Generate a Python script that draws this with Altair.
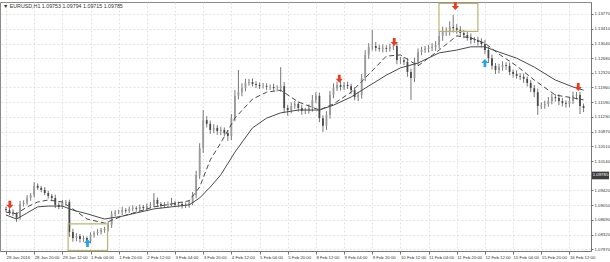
import altair as alt
import pandas as pd
import numpy as np

# ---- candles: one candle per two H1 bars, hour index from 28 Jan 04:00 ----
bar_hours = list(range(0, 330, 2))
# close prices in pips above 1.0000 (e.g. 893 -> 1.0893)
closes_pips = [
    893, 888, 884, 874, 908, 911, 923, 930, 953, 948,
    943, 935, 928, 923, 906, 901, 911, 913, 839, 824,
    829, 822, 824, 817, 832, 836, 839, 844, 846, 857,
    884, 888, 888, 893, 891, 896, 898, 896, 901, 898,
    903, 906, 918, 908, 903, 906, 908, 911, 906, 908,
    903, 906, 911, 930, 980, 1046, 1115, 1106, 1091, 1096,
    1088, 1091, 1083, 1076, 1120, 1175, 1184, 1194, 1207, 1209,
    1204, 1202, 1199, 1199, 1197, 1197, 1194, 1194, 1199, 1145,
    1140, 1150, 1155, 1145, 1138, 1138, 1145, 1165, 1175, 1120,
    1101, 1128, 1177, 1194, 1202, 1197, 1202, 1199, 1189, 1172,
    1177, 1219, 1276, 1296, 1298, 1293, 1291, 1293, 1291, 1296,
    1298, 1263, 1263, 1259, 1234, 1219, 1259, 1283, 1288, 1291,
    1293, 1296, 1300, 1323, 1335, 1333, 1345, 1342, 1338, 1330,
    1325, 1320, 1313, 1313, 1308, 1303, 1288, 1268, 1249, 1239,
    1246, 1251, 1249, 1234, 1229, 1224, 1222, 1217, 1207, 1194,
    1184, 1150, 1152, 1155, 1162, 1172, 1170, 1162, 1157, 1155,
    1162, 1175, 1177, 1150, 1145,
]
first_open_pips = 896
# wick lengths in pips above / below the body
upper_wick = [
    6, 5, 7, 4, 8, 6, 7, 5, 9, 6,
    5, 7, 6, 5, 8, 6, 7, 5, 6, 8,
    7, 5, 6, 4, 6, 5, 7, 5, 6, 8,
    7, 5, 6, 8, 5, 6, 7, 5, 6, 5,
    6, 7, 17, 6, 5, 7, 6, 12, 5, 6,
    5, 6, 7, 8, 10, 12, 25, 10, 8, 9,
    7, 8, 6, 7, 10, 14, 55, 12, 10, 8,
    9, 7, 6, 8, 7, 6, 8, 7, 47, 10,
    8, 9, 7, 6, 8, 7, 9, 12, 9, 8,
    7, 9, 10, 12, 8, 9, 7, 8, 6, 7,
    8, 10, 12, 9, 40, 10, 8, 9, 7, 8,
    9, 10, 8, 7, 9, 8, 10, 9, 8, 7,
    8, 9, 10, 12, 11, 9, 14, 30, 10, 9,
    8, 10, 9, 7, 8, 9, 10, 8, 9, 7,
    8, 9, 7, 8, 6, 9, 7, 8, 6, 7,
    8, 9, 7, 8, 10, 8, 7, 9, 8, 7,
    9, 10, 7, 8, 6,
]
lower_wick = [
    5, 7, 6, 10, 5, 6, 5, 7, 6, 5,
    6, 5, 7, 6, 8, 6, 5, 7, 12, 9,
    8, 9, 7, 10, 6, 7, 5, 6, 7, 6,
    8, 6, 5, 7, 6, 5, 6, 7, 5, 6,
    7, 5, 6, 8, 6, 5, 7, 6, 5, 6,
    6, 5, 7, 6, 8, 10, 12, 9, 10, 8,
    9, 10, 8, 12, 10, 8, 9, 10, 8, 7,
    6, 8, 7, 6, 8, 7, 6, 8, 9, 12,
    14, 8, 7, 9, 10, 8, 7, 9, 8, 10,
    15, 10, 9, 8, 7, 9, 8, 7, 9, 8,
    10, 9, 8, 10, 9, 8, 7, 9, 8, 7,
    8, 10, 9, 8, 12, 54, 10, 9, 8, 7,
    9, 8, 10, 9, 12, 10, 9, 11, 10, 9,
    8, 9, 10, 8, 9, 8, 10, 12, 9, 10,
    8, 9, 10, 8, 9, 7, 8, 10, 9, 10,
    12, 22, 8, 9, 7, 8, 9, 10, 8, 9,
    8, 7, 9, 20, 10,
]

# ---- moving averages ----
ma_hours = [0, 6, 12, 18, 24, 32, 38, 46, 56, 66, 74, 84, 94, 104, 110, 116,
            122, 130, 140, 148, 156, 166, 178, 186, 196, 204, 216, 224, 234,
            246, 256, 264, 272, 280, 290, 300, 312, 322, 328]
ma_slow_pips = [881, 871, 886, 901, 903, 903, 893, 884, 871, 878, 886, 896, 901,
                906, 923, 950, 980, 1036, 1096, 1120, 1133, 1140, 1140, 1152,
                1172, 1194, 1226, 1244, 1256, 1281, 1288, 1296, 1296, 1283,
                1268, 1246, 1214, 1197, 1189]
ma_fast_pips = [888, 884, 901, 913, 918, 913, 896, 871, 861, 878, 888, 901, 908,
                916, 950, 1017, 1059, 1120, 1167, 1184, 1189, 1160, 1140, 1155,
                1184, 1219, 1273, 1276, 1249, 1288, 1323, 1318, 1305, 1278,
                1249, 1214, 1177, 1170, 1165]

# ---- signals ----
sell_hours = [2.2, 189.3, 220.5, 255.2, 325.0]
sell_pips = [906, 1217, 1308, 1397, 1197]
buy_hours = [46.3, 272.0]
buy_pips = [812, 1256]

# ---- highlighted boxes ----
box_h_start = [35.3, 245.9]
box_h_end = [57.7, 268.0]
box_p_top = [859, 1403]
box_p_bottom = [793, 1334]

# ---- axes ----
tick_hours = [0, 16, 32, 48, 64, 80, 96, 112, 128, 144, 160, 176, 192, 208,
              224, 240, 256, 272, 288, 304, 320]
tick_labels = ["28 Jan 2016", "28 Jan 20:00", "29 Jan 12:00", "1 Feb 04:00",
               "1 Feb 20:00", "2 Feb 12:00", "3 Feb 04:00", "3 Feb 20:00",
               "4 Feb 12:00", "5 Feb 04:00", "5 Feb 20:00", "8 Feb 12:00",
               "9 Feb 04:00", "9 Feb 20:00", "10 Feb 12:00", "11 Feb 04:00",
               "11 Feb 20:00", "12 Feb 12:00", "15 Feb 04:00", "15 Feb 20:00",
               "16 Feb 12:00"]
price_ticks = [1.13770, 1.13410, 1.13040, 1.12680, 1.12320, 1.11960, 1.11590,
               1.11230, 1.10870, 1.10510, 1.10140, 1.09785, 1.09420, 1.09050,
               1.08690, 1.08320, 1.07970]
current_price = 1.09785
header = "\u25bc EURUSD,H1  1.09753 1.09794 1.09715 1.09785"

def px(v):
    return 1 + v / 10000.0

opens_pips = [first_open_pips] + closes_pips[:-1]
bars = pd.DataFrame({"h": bar_hours,
                     "open": [px(v) for v in opens_pips],
                     "close": [px(v) for v in closes_pips]})
bars["high"] = bars[["open", "close"]].max(axis=1) + np.array(upper_wick) / 10000.0
bars["low"] = bars[["open", "close"]].min(axis=1) - np.array(lower_wick) / 10000.0
bars["dir"] = np.where(bars["close"] >= bars["open"], "up", "down")

ma = pd.DataFrame({"h": ma_hours,
                   "slow": [px(v) for v in ma_slow_pips],
                   "fast": [px(v) for v in ma_fast_pips]})
sells = pd.DataFrame({"h": sell_hours, "p": [px(v) for v in sell_pips]})
buys = pd.DataFrame({"h": buy_hours, "p": [px(v) for v in buy_pips]})
boxes = pd.DataFrame({"h1": box_h_start, "h2": box_h_end,
                      "p1": [px(v) for v in box_p_top],
                      "p2": [px(v) for v in box_p_bottom]})

FONT = "Liberation Sans"
FS = 4.3
xs = alt.Scale(domain=[-0.56, 329.4], nice=False, zero=False)
ys = alt.Scale(domain=[1.07921, 1.14066], nice=False, zero=False)

x_expr = "[" + ",".join("'%s'" % s for s in tick_labels) + "][round(datum.value/16)]"
x_axis = alt.Axis(values=tick_hours, tickCount=100, labelExpr=x_expr, title=None,
                  grid=True, gridDash=[2, 2], gridColor="#dcdcdc", gridWidth=0.8,
                  tickSize=3, tickColor="#777", domainColor="#777",
                  labelFontSize=FS, labelFont=FONT, labelColor="#333",
                  labelAlign="left", labelBaseline="top", labelPadding=1,
                  labelOverlap=False, labelFlush=False)
y_expr = "abs(datum.value-%f)<0.000001 ? '' : format(datum.value, '.5f')" % current_price
y_axis = alt.Axis(orient="right", values=price_ticks, tickCount=100, labelExpr=y_expr,
                  title=None,
                  grid=True, gridDash=[2, 2], gridColor="#dcdcdc", gridWidth=0.8,
                  tickSize=2, tickColor="#777", domainColor="#777",
                  labelFontSize=FS, labelFont=FONT, labelColor="#333",
                  labelAlign="left", labelBaseline="middle", labelPadding=1,
                  labelOverlap=False, labelFlush=False)

base = alt.Chart(bars)
wicks = base.mark_rule(strokeWidth=0.9, color="#6a6a6a").encode(
    x=alt.X("h:Q", scale=xs, axis=x_axis),
    y=alt.Y("low:Q", scale=ys, axis=y_axis),
    y2="high:Q")
bodies = base.mark_bar(size=1.8).encode(
    x="h:Q", y="open:Q", y2="close:Q",
    color=alt.Color("dir:N", scale=alt.Scale(domain=["up", "down"],
                                             range=["#9a9a9a", "#4a4a4a"]),
                    legend=None))

ma_base = alt.Chart(ma)
slow = ma_base.mark_line(color="#4a4a4a", strokeWidth=1).encode(
    x="h:Q", y="slow:Q")
fast = ma_base.mark_line(color="#4a4a4a", strokeWidth=1, strokeDash=[5, 3]).encode(
    x="h:Q", y="fast:Q")

box_layer = alt.Chart(boxes).mark_rect(fillOpacity=0, stroke="#bdb473",
                                       strokeWidth=1.2).encode(
    x="h1:Q", x2="h2:Q", y="p1:Q", y2="p2:Q")

down_arrow = "M-0.35,-1L0.35,-1L0.35,0L0.9,0L0,1L-0.9,0L-0.35,0Z"
up_arrow = "M-0.35,1L0.35,1L0.35,0L0.9,0L0,-1L-0.9,0L-0.35,0Z"
sell_layer = alt.Chart(sells).mark_point(shape=down_arrow, filled=True, size=64,
                                         color="#ee3b1f", opacity=1).encode(
    x="h:Q", y="p:Q")
buy_layer = alt.Chart(buys).mark_point(shape=up_arrow, filled=True, size=64,
                                       color="#25a6e6", opacity=1).encode(
    x="h:Q", y="p:Q")

head = alt.Chart(pd.DataFrame({"t": [header]})).mark_text(
    align="left", baseline="middle", fontSize=5.3, font=FONT, color="#333").encode(
    x=alt.value(3), y=alt.value(3.5), text="t:N")

cp = pd.DataFrame({"p": [current_price], "t": ["%.5f" % current_price]})
cp_box = alt.Chart(cp).mark_point(shape="M-1,-0.45L1,-0.45L1,0.45L-1,0.45Z",
                                  filled=True, size=289, color="#3c3c3c",
                                  opacity=1).encode(
    x=alt.value(600.5), y=alt.Y("p:Q", scale=ys))
cp_text = alt.Chart(cp).mark_text(align="center", baseline="middle", fontSize=FS,
                                  font=FONT, color="white").encode(
    x=alt.value(600.5), y=alt.Y("p:Q", scale=ys), text="t:N")

chart = alt.layer(wicks, bodies, slow, fast, box_layer, sell_layer, buy_layer,
                  head, cp_box, cp_text).properties(
    width=591, height=249,
    autosize=alt.AutoSizeParams(type="none"),
    padding={"left": 0, "top": 2, "right": 19, "bottom": 11},
    background="white",
).configure_view(stroke="#8a8a8a", strokeWidth=1)

chart.save("out.html", embed_options={"renderer": "svg", "actions": False})
